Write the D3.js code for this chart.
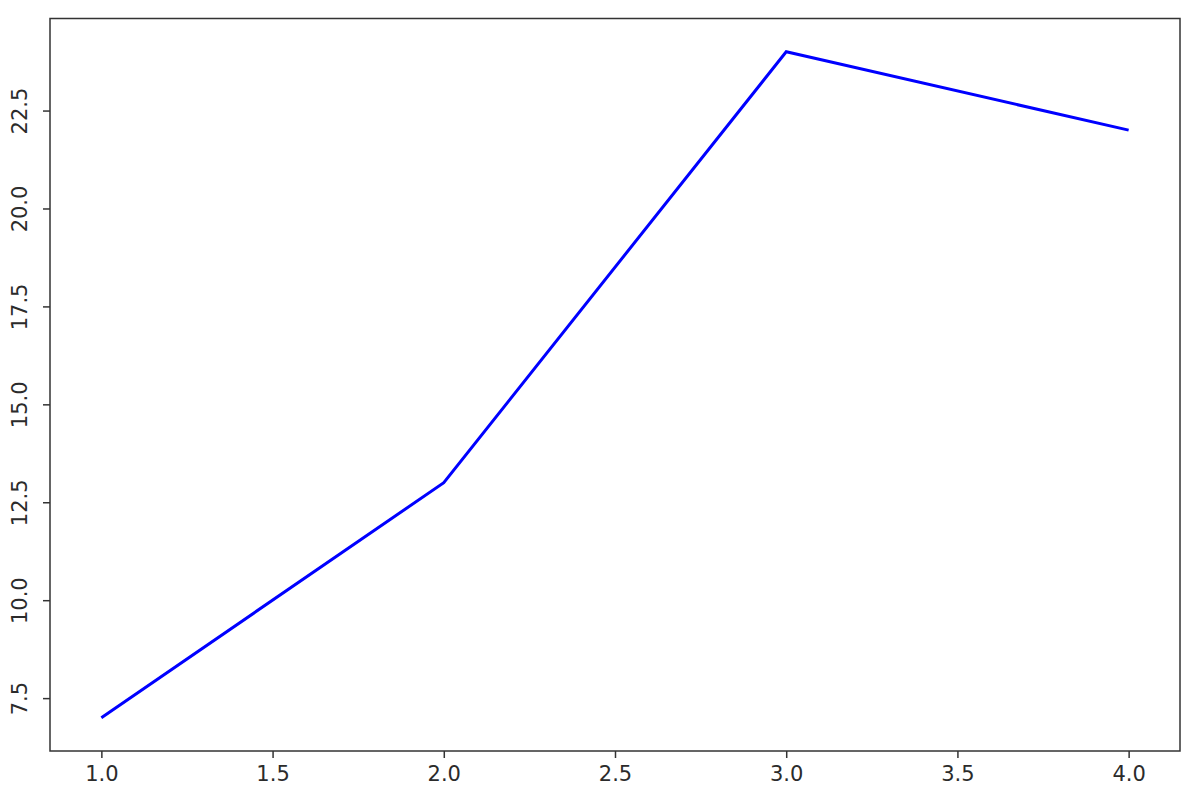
<!DOCTYPE html>
<html>
<head>
<meta charset="utf-8">
<script src="https://cdn.jsdelivr.net/npm/d3@7"></script>
<style>
  body { margin: 0; background: #fff; }
  text { font-family: "DejaVu Sans", sans-serif; }
</style>
</head>
<body>
<svg id="chart" width="1185" height="806"></svg>
<script>
// data
var xVals = [1, 2, 3, 4];
var yVals = [7, 13, 24, 22];
var xTicks = [1.0, 1.5, 2.0, 2.5, 3.0, 3.5, 4.0];
var yTicks = [7.5, 10.0, 12.5, 15.0, 17.5, 20.0, 22.5];

// hranice plochy grafu (top je v okně rezervované, proto jiné názvy)
var plotLeft = 50, plotRight = 1180, plotTop = 18.5, plotBottom = 751;

// okraje 5 % jako v matplotlibu
var xPad = (d3.max(xVals) - d3.min(xVals)) * 0.05;
var yPad = (d3.max(yVals) - d3.min(yVals)) * 0.05;

var x = d3.scaleLinear()
    .domain([d3.min(xVals) - xPad, d3.max(xVals) + xPad])
    .range([plotLeft, plotRight]);
var y = d3.scaleLinear()
    .domain([d3.min(yVals) - yPad, d3.max(yVals) + yPad])
    .range([plotBottom, plotTop]);

var svg = d3.select("#chart");

// čára
var line = d3.line()
    .x(function (d, i) { return x(xVals[i]); })
    .y(function (d) { return y(d); });

svg.append("path")
    .datum(yVals)
    .attr("d", line)
    .attr("fill", "none")
    .attr("stroke", "#0000ff")
    .attr("stroke-width", 3)
    .attr("stroke-linejoin", "miter");

// osa x
var xAxis = d3.axisBottom(x)
    .tickValues(xTicks)
    .tickFormat(d3.format(".1f"))
    .tickSize(7)
    .tickPadding(8);

var gx = svg.append("g")
    .attr("transform", "translate(0," + plotBottom + ")")
    .call(xAxis);
gx.select(".domain").remove();
gx.selectAll("line").attr("stroke", "#333").attr("stroke-width", 1.5);
gx.selectAll("text")
    .attr("fill", "#2b2b2b")
    .style("font-size", "21px");

// osa y
var yAxis = d3.axisLeft(y)
    .tickValues(yTicks)
    .tickFormat(d3.format(".1f"))
    .tickSize(7)
    .tickPadding(8);

var gy = svg.append("g")
    .attr("transform", "translate(" + plotLeft + ",0)")
    .call(yAxis);
gy.select(".domain").remove();
gy.selectAll("line").attr("stroke", "#333").attr("stroke-width", 1.5);
gy.selectAll("text")
    .attr("fill", "#2b2b2b")
    .style("font-size", "21px")
    .attr("x", null)
    .attr("dy", null)
    .attr("text-anchor", "middle")
    .attr("dominant-baseline", "central")
    .attr("transform", "translate(-30,0) rotate(-90)");

// rámeček
svg.append("rect")
    .attr("x", plotLeft)
    .attr("y", plotTop)
    .attr("width", plotRight - plotLeft)
    .attr("height", plotBottom - plotTop)
    .attr("fill", "none")
    .attr("stroke", "#333")
    .attr("stroke-width", 1.5);
</script>
</body>
</html>
